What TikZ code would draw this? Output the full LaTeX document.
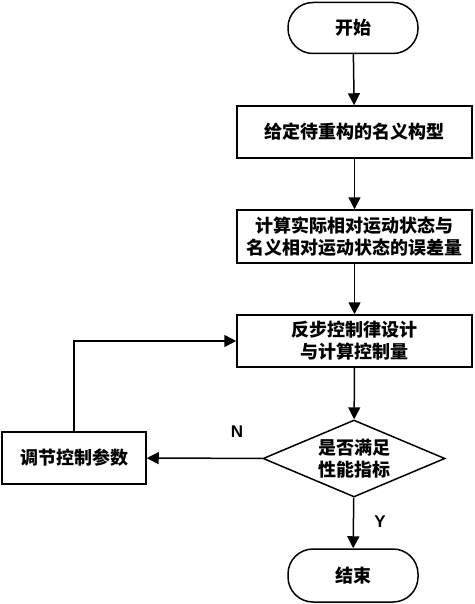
\documentclass[tikz,border=0pt]{standalone}
\usepackage{fontspec}
\newfontfamily\cjk{Noto Sans CJK SC}
\newfontfamily\latinsans{Liberation Sans}
\usetikzlibrary{shapes.geometric,arrows.meta}
\begin{document}
\begin{tikzpicture}[x=1pt,y=-1pt,
  base/.style={draw=black,line width=1.5pt,align=center,inner sep=0pt,
    font=\cjk\bfseries\fontsize{18}{22}\selectfont},
  procbox/.style={base,rectangle,minimum width=235pt,minimum height=52pt},
  termbox/.style={base,rectangle,rounded corners=25pt,minimum width=130pt,minimum height=51pt},
  decbox/.style={base,diamond,aspect=2.36,minimum width=182pt,minimum height=77pt},
  conn/.style={line width=1.5pt,-{Triangle[length=12pt,width=12pt]}},
  lab/.style={font=\latinsans\bfseries\fontsize{17}{20}\selectfont}]
\useasboundingbox (0,0) rectangle (474,604);
\node[termbox] (start) at (353,28) {开始};
\node[procbox] (b1) at (354.5,132) {给定待重构的名义构型};
\node[procbox,minimum height=53pt] (b2) at (354.5,236.5) {计算实际相对运动状态与\\名义相对运动状态的误差量};
\node[procbox] (b3) at (354.5,341) {反步控制律设计\\与计算控制量};
\node[decbox] (dec) at (354,458.5) {是否满足\\性能指标};
\node[base,rectangle,minimum width=144pt,minimum height=52pt] (adj) at (74,458) {调节控制参数};
\node[termbox,minimum height=53pt] (end) at (353,575.5) {结束};
\draw[conn] (start) -- (b1);
\draw[conn] (b1) -- (b2);
\draw[conn] (b2) -- (b3);
\draw[conn] (b3) -- (dec);
\draw[conn] (dec) -- (end);
\draw[conn] (dec) -- (adj);
\draw[conn] (adj.north) |- (b3.west);
\node[lab] (nlab) at (237,432) {N};
\node[lab] (ylab) at (380,522) {Y};
\end{tikzpicture}
\end{document}
